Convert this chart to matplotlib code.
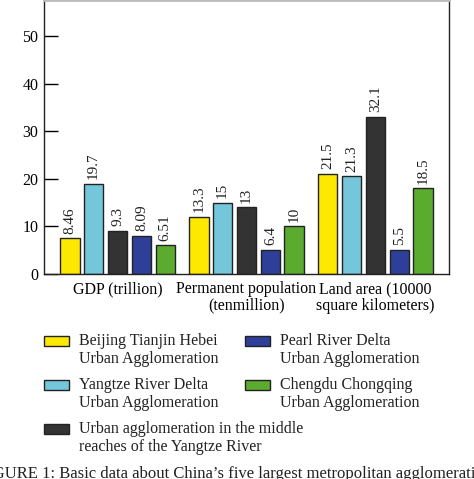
import matplotlib
matplotlib.use("Agg")
import matplotlib.pyplot as plt
from matplotlib.patches import Rectangle

plt.rcParams['font.family'] = ['Liberation Serif', 'DejaVu Serif']

categories = ["GDP (trillion)", "Permanent population\n(tenmillion)", "Land area (10000\nsquare kilometers)"]
series = ["Beijing Tianjin Hebei\nUrban Agglomeration",
          "Yangtze River Delta\nUrban Agglomeration",
          "Urban agglomeration in the middle\nreaches of the Yangtze River",
          "Pearl River Delta\nUrban Agglomeration",
          "Chengdu Chongqing\nUrban Agglomeration"]
colors = ["#fde800", "#74c7db", "#333333", "#2d3f98", "#5aab2e"]
# bar heights as drawn in the picture
heights = [[7.5, 12, 21], [19, 15, 20.5], [9, 14, 33], [8, 5, 5], [6, 10, 18]]
# printed value labels
labels = [["8.46", "13.3", "21.5"], ["19.7", "15", "21.3"], ["9.3", "13", "32.1"],
          ["8.09", "6.4", "5.5"], ["6.51", "10", "18.5"]]

W, H = 474, 479
fig = plt.figure(figsize=(W/100, H/100), dpi=100)
ax = fig.add_axes([44/W, 1-274/H, (449-44)/W, 274/H])

gap = 5.4
for s in range(5):
    for g in range(3):
        x = g*gap + s
        h = heights[s][g]
        ax.bar(x, h, width=0.82, color=colors[s], edgecolor="#222222", linewidth=1)
        ax.text(x, h + 1.0, labels[s][g], rotation=90, ha="center", va="bottom", fontsize=11, color="#222222")

ax.set_xlim(-1.08, 2*gap + 4 + 1.08)
ax.set_ylim(0, 57.6)
ax.set_yticks([0, 10, 20, 30, 40, 50])
ax.set_xticks([2 + g*gap for g in range(3)])
ax.set_xticklabels(categories, fontsize=11.5, linespacing=1.05)
ax.tick_params(axis='x', length=0, pad=5)
ax.tick_params(axis='y', direction='in', length=10, labelsize=11.5, pad=4, width=1)
for sp in ["left", "bottom", "right"]:
    ax.spines[sp].set_color("#222222")
    ax.spines[sp].set_linewidth(1)
ax.spines["top"].set_color("#bbbbbb")
ax.spines["top"].set_linewidth(2)

# legend (manual layout)
pos = [(44, 341), (44, 385), (44, 429), (245, 341), (245, 385)]
for s, (px, py) in enumerate(pos):
    fig.patches.append(Rectangle((px/W, 1-(py+5)/H), 25/W, 10/H, transform=fig.transFigure,
                                 facecolor=colors[s], edgecolor="#222222", linewidth=1))
    fig.text((px+35)/W, 1-(py-8)/H, series[s], ha="left", va="top", fontsize=11.5,
             linespacing=1.2, color="#222222")

fig.text(-22/W, 1-474/H, "FIGURE 1: Basic data about China\u2019s five largest metropolitan agglomerations.",
         ha="left", va="center", fontsize=12, color="#222222")

fig.savefig("out.png", dpi=100)
